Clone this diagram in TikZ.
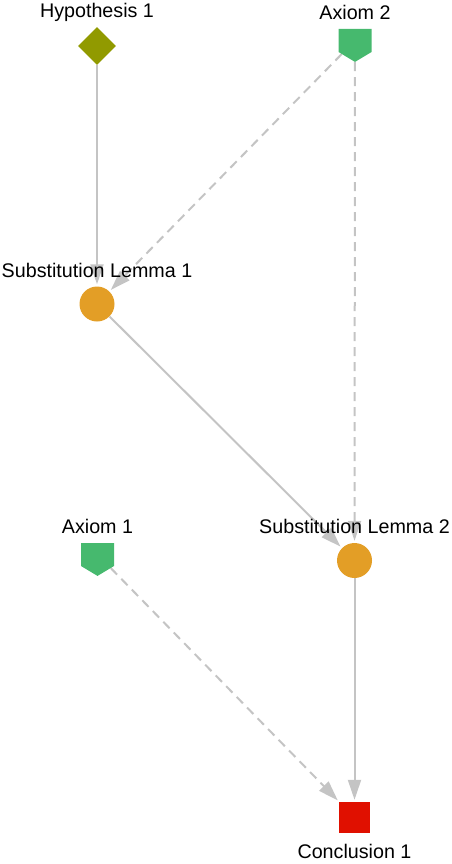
\documentclass[tikz,border=0pt]{standalone}
\usepackage{fontspec}
\setmainfont{Liberation Sans}
\usetikzlibrary{shapes.geometric,shapes.symbols,arrows.meta,backgrounds}
\usepackage{xcolor}

\definecolor{hypcol}{HTML}{919A00}
\definecolor{axcol}{HTML}{46B96E}
\definecolor{lemcol}{HTML}{E39E26}
\definecolor{concol}{HTML}{E01000}
\definecolor{edgecol}{HTML}{C4C4C4}

\begin{document}
\begin{tikzpicture}[x=1pt, y=-1pt,
  lbl/.style = {font=\fontsize{19.7}{23}\selectfont, inner sep=0pt, text depth=0pt, label distance=9pt},
  hypnode/.style = {diamond, fill=hypcol, inner sep=0, minimum width=38pt, minimum height=38pt},
  axnode/.style = {signal, signal to=south, signal pointer angle=118, fill=axcol, inner sep=0, minimum width=33pt, minimum height=23pt},
  lemnode/.style = {circle, fill=lemcol, inner sep=0, minimum size=35pt},
  connode/.style = {rectangle, fill=concol, inner sep=0, minimum size=31pt},
  edge/.style = {draw=edgecol, line width=2pt, -{Triangle[length=20pt, width=13pt]}, shorten >=2pt},
  dashedge/.style = {edge, dash pattern=on 9pt off 6pt}
]

\useasboundingbox (0,0) rectangle (452,864);

\node[hypnode, label = {[lbl]above:Hypothesis 1}] (hyp1) at (97,46) {};
\node[axnode, label = {[lbl]above:Axiom 2}] (ax2) at (355,40.5) {};

\node[lemnode, label = {[lbl]above:Substitution Lemma 1}] (sl1) at (97,304) {};

\node[axnode, label = {[lbl]above:Axiom 1}] (ax1) at (97.5,554.5) {};
\node[lemnode, label = {[lbl]above:Substitution Lemma 2}] (sl2) at (354.5,560.5) {};

\node[connode, label = {[lbl, label distance=11pt]below:Conclusion 1}] (con1) at (354.5,817.5) {};

% edges behind the labels
\begin{scope}[on background layer]
\draw[edge] (hyp1) -- (sl1);
\draw[dashedge] (ax2) -- (sl1);
\draw[dashedge] (ax2) -- (sl2);
\draw[edge] (sl1) -- (sl2);
\draw[dashedge] (ax1) -- (con1);
\draw[edge] (sl2) -- (con1);
\end{scope}

\end{tikzpicture}
\end{document}
